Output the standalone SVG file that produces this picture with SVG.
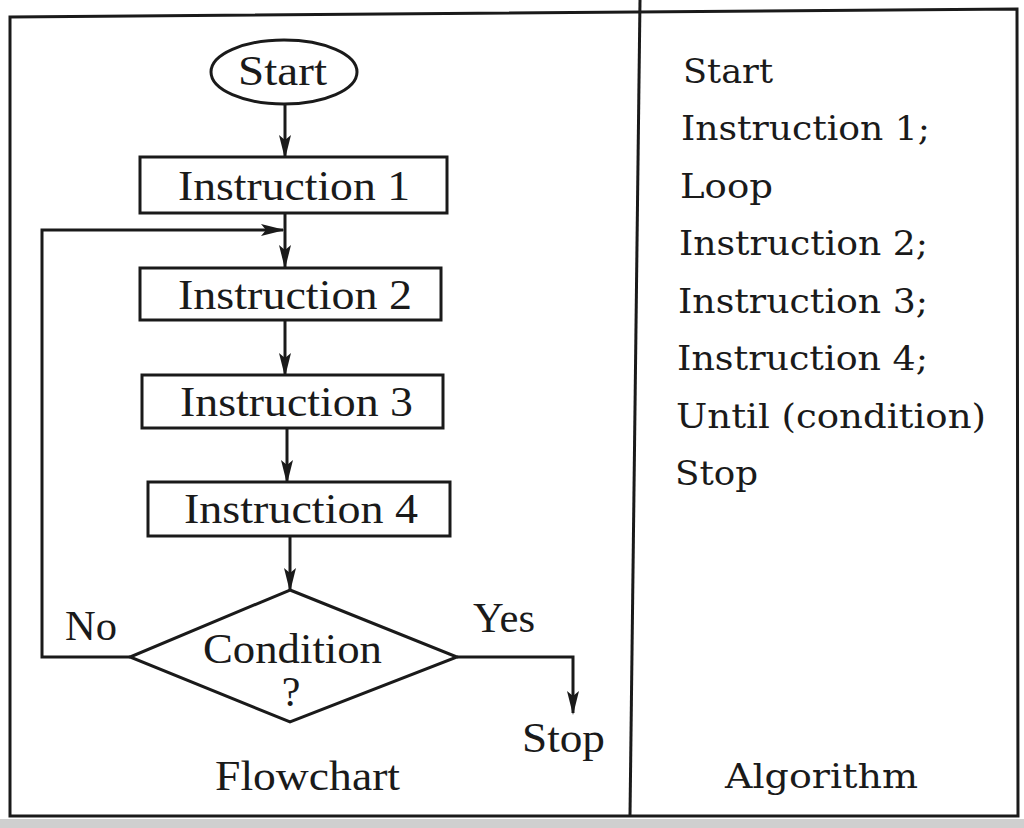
<svg xmlns="http://www.w3.org/2000/svg" width="1024" height="828" viewBox="0 0 1024 828">
<defs>
<marker id="ah" markerWidth="24" markerHeight="12" refX="22" refY="6" orient="auto" markerUnits="userSpaceOnUse" viewBox="0 0 24 12">
<path d="M0,0 L24,6 L0,12 L5,6 Z" fill="#1a1a1a"/>
</marker>
<style>
.ln{stroke:#1a1a1a;stroke-width:3;fill:none}
.sh{stroke:#1a1a1a;stroke-width:3;fill:#fff}
.ft{font-family:"Liberation Serif","Times New Roman",serif;font-size:42px;fill:#1a1a1a}
.at{font-family:"DejaVu Serif","Liberation Serif",serif;font-size:33px;fill:#1a1a1a}
</style>
</defs>
<rect width="1024" height="828" fill="#fff"/>
<rect x="0" y="819" width="1024" height="9" fill="#cfcfcf"/>
<g id="frame">
<path class="ln" d="M10,17 L1017,9 L1018,816 L10,816 Z"/>
<path class="ln" d="M640,0 L630,816"/>
</g>
<g id="connectors">
<path class="ln" d="M285,104 L285,157" marker-end="url(#ah)"/>
<path class="ln" d="M285,213 L285,267" marker-end="url(#ah)"/>
<path class="ln" d="M285,320 L285,375" marker-end="url(#ah)"/>
<path class="ln" d="M287,428 L287,482" marker-end="url(#ah)"/>
<path class="ln" d="M290,536 L290,590" marker-end="url(#ah)"/>
<path class="ln" d="M130,657 L42,657 L42,230 L283,230" marker-end="url(#ah)"/>
<path class="ln" d="M457,657 L573,657 L573,713" marker-end="url(#ah)"/>
</g>
<g id="start">
<ellipse class="sh" cx="284" cy="72" rx="73" ry="32"/>
<text class="ft" x="238" y="85" textLength="89" lengthAdjust="spacingAndGlyphs">Start</text>
</g>
<g id="instr1">
<rect class="sh" x="140" y="157" width="307" height="56"/>
<text class="ft" x="178" y="200" textLength="232" lengthAdjust="spacingAndGlyphs">Instruction 1</text>
</g>
<g id="instr2">
<rect class="sh" x="140" y="268" width="301" height="52"/>
<text class="ft" x="178" y="309" textLength="234" lengthAdjust="spacingAndGlyphs">Instruction 2</text>
</g>
<g id="instr3">
<rect class="sh" x="142" y="375" width="301" height="53"/>
<text class="ft" x="180" y="416" textLength="233" lengthAdjust="spacingAndGlyphs">Instruction 3</text>
</g>
<g id="instr4">
<rect class="sh" x="148" y="482" width="302" height="54"/>
<text class="ft" x="184" y="523" textLength="234" lengthAdjust="spacingAndGlyphs">Instruction 4</text>
</g>
<g id="condition">
<path class="sh" d="M290,590 L457,657 L290,722 L130,657 Z"/>
<text class="ft" x="203" y="663" textLength="179" lengthAdjust="spacingAndGlyphs">Condition</text>
<text class="ft" x="291" y="706" text-anchor="middle">?</text>
</g>
<g id="labels">
<text class="ft" x="65" y="640" textLength="52" lengthAdjust="spacingAndGlyphs">No</text>
<text class="ft" x="473" y="632" textLength="62" lengthAdjust="spacingAndGlyphs">Yes</text>
<text class="ft" x="522" y="752" textLength="83" lengthAdjust="spacingAndGlyphs">Stop</text>
<text class="ft" x="215" y="790" textLength="185" lengthAdjust="spacingAndGlyphs">Flowchart</text>
</g>
<g id="algorithm">
<text class="at" x="683" y="83" textLength="90" lengthAdjust="spacingAndGlyphs">Start</text>
<text class="at" x="681" y="140" textLength="249" lengthAdjust="spacingAndGlyphs">Instruction 1;</text>
<text class="at" x="680" y="198" textLength="93" lengthAdjust="spacingAndGlyphs">Loop</text>
<text class="at" x="679" y="255" textLength="249" lengthAdjust="spacingAndGlyphs">Instruction 2;</text>
<text class="at" x="678" y="313" textLength="250" lengthAdjust="spacingAndGlyphs">Instruction 3;</text>
<text class="at" x="677" y="370" textLength="251" lengthAdjust="spacingAndGlyphs">Instruction 4;</text>
<text class="at" x="676" y="428" textLength="310" lengthAdjust="spacingAndGlyphs">Until (condition)</text>
<text class="at" x="675" y="485" textLength="83" lengthAdjust="spacingAndGlyphs">Stop</text>
<text class="at" x="725" y="788" textLength="193" lengthAdjust="spacingAndGlyphs">Algorithm</text>
</g>
</svg>
